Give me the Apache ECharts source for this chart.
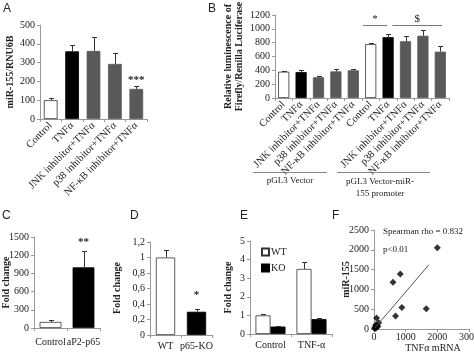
<!DOCTYPE html>
<html>
<head>
<meta charset="utf-8">
<script src="https://cdn.jsdelivr.net/npm/echarts@6/dist/echarts.min.js"></script>
<style>
html, body { margin: 0; padding: 0; background: #fff; }
#main { width: 474px; height: 353px; }
</style>
</head>
<body>
<div id="main"></div>
<script>
// A - miR-155/RNU6B
var catsA = ['Control', 'TNFα', 'JNK inhibitor+TNFα', 'p38 inhibitor+TNFα', 'NF-κB inhibitor+TNFα'];
var valA = [100, 360, 362, 293, 160];
var errA = [110, 395, 435, 352, 175];
var ticksA = [0, 100, 200, 300, 400, 500];
var sigA = [[4, 207]];
var sigTextA = ['***'];

// B - luciferase
var catsB = ['Control', 'TNFα', 'JNK inhibitor+TNFα', 'p38 inhibitor+TNFα', 'NF-κB inhibitor+TNFα',
             'Control', 'TNFα', 'JNK inhibitor+TNFα', 'p38 inhibitor+TNFα', 'NF-κB inhibitor+TNFα'];
var valB = [380, 375, 300, 385, 400, 780, 880, 820, 900, 670];
var errB = [390, 400, 325, 425, 420, 790, 920, 890, 980, 750];
var ticksB = [0, 200, 400, 600, 800, 1000, 1200];
var bracketFrom = [4.55, 6.25];
var bracketTo = [5.95, 9.1];
var bracketY = [1050, 1050];
var bracketText = ['*', '$'];
var groupB = ['pGL3 Vector', 'pGL3 Vector-miR-\n155 promoter'];

// C
var catsC = ['Control', 'aP2-p65'];
var valC = [100, 1000];
var errC = [135, 1270];
var ticksC = [0, 300, 600, 900, 1200, 1500];
var sigC = [[1, 1418]];
var sigTextC = ['**'];

// D
var catsD = ['WT', 'p65-KO'];
var valD = [1.0, 0.3];
var errD = [1.1, 0.33];
var ticksD = [0, 0.2, 0.4, 0.6, 0.8, 1, 1.2];
var tickLabelsD = ['0', '0,2', '0,4', '0,6', '0,8', '1', '1,2'];
var sigD = [[1, 0.52]];
var sigTextD = ['*'];

// E
var catsE = ['Control', 'TNF-α'];
var wtE = [1.0, 3.5];
var wtErrE = [1.1, 3.85];
var koE = [0.4, 0.8];
var koErrE = [0.45, 0.87];
var ticksE = [0, 1, 2, 3, 4, 5];

// F - scatter
var fx = [2000, 830, 600, 880, 680, 1650, 80, 150, 120, 30, 60, 20, 100, 50];
var fy = [2050, 1390, 1180, 545, 330, 510, 280, 160, 60, 40, 20, 10, 80, 100];
var trendX = [20, 1730];
var trendY = [20, 1620];
var ticksFx = [0, 1000, 2000, 3000];
var ticksFy = [0, 500, 1000, 1500, 2000, 2500];

var GRAY = '#595959';
var colsA = ['#fff', '#000', GRAY, GRAY, GRAY];
var colsB = ['#fff', '#000', GRAY, GRAY, GRAY, '#fff', '#000', GRAY, GRAY, GRAY];
var colsC = ['#fff', '#000'];
var colsD = ['#fff', '#000'];
var SERIF = '"Liberation Serif", "DejaVu Serif", serif';
var AXC = '#999';

function plain(v) { return String(v); }

function barData(vals, cols) {
    return vals.map(function(v, i) {
        return {
            value: v,
            itemStyle: { color: cols[i], borderColor: cols[i] === '#fff' ? '#333' : cols[i], borderWidth: 0.8 }
        };
    });
}

function errData(vals, errs, off) {
    return vals.map(function(v, i) { return [i, v, errs[i], off || 0]; });
}

function errItem(params, api) {
    var band = api.size([1, 0])[0];
    var b = api.coord([api.value(0), api.value(1)]);
    var t = api.coord([api.value(0), api.value(2)]);
    var x = Math.round(b[0] + api.value(3) * band) + 0.5;
    var ty = Math.round(t[1]) + 0.5;
    return {
        type: 'group',
        children: [
            { type: 'line', shape: { x1: x, y1: b[1], x2: x, y2: ty }, style: { stroke: '#333', lineWidth: 1 } },
            { type: 'line', shape: { x1: x - 2.5, y1: ty, x2: x + 2.5, y2: ty }, style: { stroke: '#333', lineWidth: 1 } }
        ]
    };
}

function sigItem(texts) {
    return function(params, api) {
        var p = api.coord([api.value(0), api.value(1)]);
        return {
            type: 'text',
            x: p[0], y: p[1],
            style: { text: texts[params.dataIndex], align: 'center', verticalAlign: 'middle',
                     font: 'bold 11px ' + SERIF, fill: '#222' }
        };
    };
}

function bracketItem(params, api) {
    var i = params.dataIndex;
    var band = api.size([1, 0])[0];
    var c0 = api.coord([0, api.value(1)]);
    var x1 = c0[0] + bracketFrom[i] * band;
    var x2 = c0[0] + bracketTo[i] * band;
    var y = Math.round(c0[1]) + 0.5;
    return {
        type: 'group',
        children: [
            { type: 'line', shape: { x1: x1, y1: y, x2: x2, y2: y }, style: { stroke: '#777', lineWidth: 1 } },
            { type: 'text', x: (x1 + x2) / 2, y: y - 1,
              style: { text: bracketText[i], align: 'center', verticalAlign: 'bottom', font: '11px ' + SERIF, fill: '#222' } }
        ]
    };
}

function grid(l, t, w, h) {
    return { left: l, top: t, width: w, height: h, outerBoundsMode: 'none', containLabel: false };
}

function catAxis(gi, cats, rotate, margin) {
    return {
        type: 'category', gridIndex: gi, data: cats,
        axisLine: { show: true, lineStyle: { color: AXC } },
        axisTick: { show: true, length: 3, lineStyle: { color: AXC } },
        axisLabel: { interval: 0, rotate: rotate, margin: margin, fontFamily: SERIF, fontSize: rotate ? 10.5 : 10, color: '#222' },
        splitLine: { show: false }
    };
}

function valAxis(gi, ticks, name, gap, fmt) {
    return {
        type: 'value', gridIndex: gi,
        min: ticks[0], max: ticks[ticks.length - 1], interval: ticks[1] - ticks[0],
        name: name, nameLocation: 'middle', nameGap: gap, nameRotate: 90, nameMoveOverlap: false,
        nameTextStyle: { fontFamily: SERIF, fontWeight: 'bold', fontSize: 10, color: '#222', lineHeight: 11 },
        axisLine: { show: true, lineStyle: { color: AXC } },
        axisTick: { show: true, length: 3, lineStyle: { color: AXC } },
        axisLabel: { margin: 5, fontFamily: SERIF, fontSize: 10, color: '#222', formatter: fmt || plain },
        splitLine: { show: false }
    };
}

function letter(t, x, y) {
    return { type: 'text', left: x, top: y, style: { text: t, font: '12px "Liberation Sans", Arial, sans-serif', fill: '#222' } };
}

var axisD = valAxis(3, ticksD, '', 24);
axisD.axisLabel.show = false;

var baseGraphic = [
    letter('A', 3, 3),
    letter('B', 208, 3),
    letter('C', 2, 210),
    letter('D', 130, 210),
    letter('E', 240, 210),
    letter('F', 332, 210),
    { type: 'text', x: 117, y: 288, rotation: Math.PI / 2,
      style: { text: 'Fold change', font: 'bold 10px ' + SERIF, fill: '#222', align: 'center', verticalAlign: 'middle' } },
    { type: 'text', left: 383, top: 227, style: { text: 'Spearman rho = 0.832', font: '9px ' + SERIF, fill: '#222' } },
    { type: 'text', left: 383, top: 245, style: { text: 'p<0.01', font: '9px ' + SERIF, fill: '#222' } },
    { type: 'text', x: 433, y: 348, style: { text: 'TNFα mRNA', font: '10px ' + SERIF, fill: '#222', align: 'center', verticalAlign: 'middle' } },
    // B group brackets under the labels
    { type: 'line', shape: { x1: 253, y1: 172.5, x2: 327, y2: 172.5 }, style: { stroke: '#888', lineWidth: 1 } },
    { type: 'line', shape: { x1: 337, y1: 172.5, x2: 430, y2: 172.5 }, style: { stroke: '#888', lineWidth: 1 } },
    { type: 'text', x: 290, y: 176, style: { text: groupB[0], font: '9px ' + SERIF, fill: '#222', align: 'center', verticalAlign: 'top' } },
    { type: 'text', x: 380, y: 176, style: { text: groupB[1], font: '9px ' + SERIF, fill: '#222', align: 'center', verticalAlign: 'top', lineHeight: 12 } }
];

var myChart = echarts.init(document.getElementById('main'));

var option = {
    animation: false,
    backgroundColor: '#fff',
    grid: [
        grid(40, 25, 107, 94),
        grid(275, 15, 174, 83),
        grid(34, 237, 66, 91),
        grid(150, 242, 62, 93),
        grid(250, 241, 82, 93),
        grid(374, 230, 95, 99)
    ],
    legend: {
        data: ['WT', 'KO'], orient: 'vertical', left: 256, top: 242,
        icon: 'rect', itemWidth: 7, itemHeight: 7, itemGap: 6, selectedMode: false,
        textStyle: { fontFamily: SERIF, fontSize: 10, color: '#222', padding: [0, 0, 0, -3] }
    },
    xAxis: [
        catAxis(0, catsA, 45, 5),
        catAxis(1, catsB, 45, 5),
        catAxis(2, catsC, 0, 9),
        catAxis(3, catsD, 0, 6),
        catAxis(4, catsE, 0, 6),
        {
            type: 'value', gridIndex: 5,
            min: ticksFx[0], max: ticksFx[ticksFx.length - 1], interval: ticksFx[1] - ticksFx[0],
            axisLine: { show: true, lineStyle: { color: AXC } },
            axisTick: { show: true, length: 3, lineStyle: { color: AXC } },
            axisLabel: { margin: 3, fontFamily: SERIF, fontSize: 10, color: '#222', formatter: plain },
            splitLine: { show: false }
        }
    ],
    yAxis: [
        valAxis(0, ticksA, 'miR-155/RNU6B', 24),
        valAxis(1, ticksB, 'Relative luminescence of\nFirefly/Renilla Luciferase', 30),
        valAxis(2, ticksC, 'Fold change', 22),
        axisD,
        valAxis(4, ticksE, 'Fold change', 16),
        valAxis(5, ticksFy, 'miR-155', 22)
    ],
    series: [
        // A
        { type: 'bar', xAxisIndex: 0, yAxisIndex: 0, barWidth: '64%', data: barData(valA, colsA) },
        { type: 'custom', xAxisIndex: 0, yAxisIndex: 0, z: 5, renderItem: errItem, data: errData(valA, errA) },
        { type: 'custom', xAxisIndex: 0, yAxisIndex: 0, z: 5, renderItem: sigItem(sigTextA), data: sigA },
        // B
        { type: 'bar', xAxisIndex: 1, yAxisIndex: 1, barWidth: '64%', data: barData(valB, colsB) },
        { type: 'custom', xAxisIndex: 1, yAxisIndex: 1, z: 5, renderItem: errItem, data: errData(valB, errB) },
        { type: 'custom', xAxisIndex: 1, yAxisIndex: 1, z: 5, renderItem: bracketItem,
          data: bracketY.map(function(y) { return [0, y]; }) },
        // C
        { type: 'bar', xAxisIndex: 2, yAxisIndex: 2, barWidth: '66%', data: barData(valC, colsC) },
        { type: 'custom', xAxisIndex: 2, yAxisIndex: 2, z: 5, renderItem: errItem, data: errData(valC, errC) },
        { type: 'custom', xAxisIndex: 2, yAxisIndex: 2, z: 5, renderItem: sigItem(sigTextC), data: sigC },
        // D
        { type: 'bar', xAxisIndex: 3, yAxisIndex: 3, barWidth: '62%', data: barData(valD, colsD) },
        { type: 'custom', xAxisIndex: 3, yAxisIndex: 3, z: 5, renderItem: errItem, data: errData(valD, errD) },
        { type: 'custom', xAxisIndex: 3, yAxisIndex: 3, z: 5, renderItem: sigItem(sigTextD), data: sigD },
        // E
        { name: 'WT', type: 'bar', xAxisIndex: 4, yAxisIndex: 4, barWidth: 15, barGap: '0%', data: wtE,
          itemStyle: { color: '#fff', borderColor: '#333', borderWidth: 0.8 } },
        { name: 'KO', type: 'bar', xAxisIndex: 4, yAxisIndex: 4, barWidth: 15, barGap: '0%', data: koE,
          itemStyle: { color: '#000', borderColor: '#000', borderWidth: 0.8 } },
        { type: 'custom', xAxisIndex: 4, yAxisIndex: 4, z: 5, renderItem: errItem, data: errData(wtE, wtErrE, -0.183) },
        { type: 'custom', xAxisIndex: 4, yAxisIndex: 4, z: 5, renderItem: errItem, data: errData(koE, koErrE, 0.183) },
        // F
        { type: 'scatter', xAxisIndex: 5, yAxisIndex: 5, symbol: 'diamond', symbolSize: 7,
          itemStyle: { color: '#000' }, data: fx.map(function(x, i) { return [x, fy[i]]; }) },
        { type: 'line', xAxisIndex: 5, yAxisIndex: 5, symbol: 'none', lineStyle: { color: '#555', width: 1 },
          data: trendX.map(function(x, i) { return [x, trendY[i]]; }) }
    ],
    graphic: baseGraphic
};

myChart.setOption(option);

// D tick labels: y positions taken from the D value axis after layout
var axisLeftD = myChart.convertToPixel({ xAxisIndex: 3, yAxisIndex: 3 }, [0, 0])[0] -
    (myChart.convertToPixel({ xAxisIndex: 3, yAxisIndex: 3 }, [1, 0])[0] -
     myChart.convertToPixel({ xAxisIndex: 3, yAxisIndex: 3 }, [0, 0])[0]) / 2;
var dLabels = ticksD.map(function(t, i) {
    var y = myChart.convertToPixel({ yAxisIndex: 3 }, t);
    return {
        type: 'text', z: 100, x: axisLeftD - 5, y: y,
        style: { text: tickLabelsD[i], font: '10px ' + SERIF, fill: '#222', align: 'right', verticalAlign: 'middle' }
    };
});
myChart.setOption({ graphic: baseGraphic.concat(dLabels) });
</script>
</body>
</html>
